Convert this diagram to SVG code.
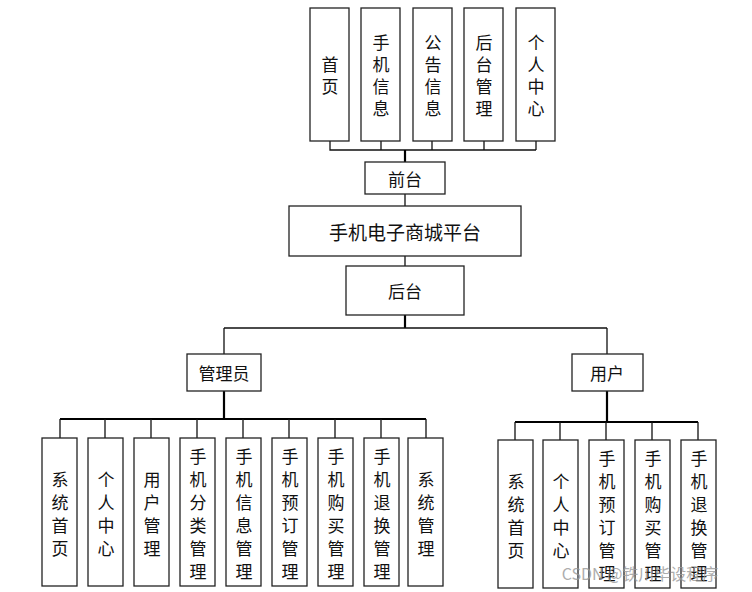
<svg xmlns="http://www.w3.org/2000/svg" width="752" height="592" viewBox="0 0 752 592">
<style>
rect{fill:#fff;stroke:#222;stroke-width:1.3}
text{font-family:"Noto Sans CJK SC","Liberation Serif",serif;font-size:17px;fill:#111;text-anchor:middle;dominant-baseline:central}
.c{fill:none;stroke:#111;stroke-width:1.3}
.b{fill:none;stroke:#000;stroke-width:2.2}
</style>
<rect x="0" y="0" width="752" height="592" style="fill:#fff;stroke:none"/>
<g id="connectors">
<path class="c" d="M330 141V150H536M381 141V150M432 141V150M484 141V150M536 141V150"/>
<path class="b" d="M405 150V162"/>
<path class="c" d="M405 194V206M405 256V266"/>
<path class="b" d="M405 315V328"/>
<path class="c" d="M224 328H607M224 328V354M607 328V354"/>
<path class="b" d="M224 391V419M60 419H426"/>
<path class="c" d="M60 419V438M105 419V438M151 419V438M197 419V438M243 419V438M289 419V438M335 419V438M381 419V438M426 419V438"/>
<path class="b" d="M607 391V422H515M607 422H698"/>
<path class="c" d="M515 422V440M560 422V440M606 422V440M652 422V440M698 422V440"/>
</g>
<g id="t1"><rect x="310" y="8" width="39" height="133"/><text x="330" y="63">首</text><text x="330" y="85">页</text></g>
<g id="t2"><rect x="361" y="8" width="39" height="133"/><text x="381" y="41">手</text><text x="381" y="63">机</text><text x="381" y="85">信</text><text x="381" y="107">息</text></g>
<g id="t3"><rect x="413" y="8" width="39" height="133"/><text x="433" y="41">公</text><text x="433" y="63">告</text><text x="433" y="85">信</text><text x="433" y="107">息</text></g>
<g id="t4"><rect x="464" y="8" width="39" height="133"/><text x="484" y="41">后</text><text x="484" y="63">台</text><text x="484" y="85">管</text><text x="484" y="107">理</text></g>
<g id="t5"><rect x="516" y="8" width="39" height="133"/><text x="536" y="41">个</text><text x="536" y="63">人</text><text x="536" y="85">中</text><text x="536" y="107">心</text></g>
<g id="qiantai"><rect x="365" y="162" width="80" height="32"/><text x="405" y="178">前台</text></g>
<g id="main"><rect x="289" y="206" width="232" height="50"/><text x="405" y="231" style="font-size:19px">手机电子商城平台</text></g>
<g id="houtai"><rect x="346" y="266" width="118" height="49"/><text x="405" y="290">后台</text></g>
<g id="admin"><rect x="187" y="354" width="74" height="37"/><text x="224" y="372">管理员</text></g>
<g id="user"><rect x="572" y="354" width="71" height="37"/><text x="607" y="372">用户</text></g>
<g id="a1"><rect x="42" y="438" width="35" height="148"/><text x="60" y="478">系</text><text x="60" y="501">统</text><text x="60" y="524">首</text><text x="60" y="547">页</text></g>
<g id="a2"><rect x="88" y="438" width="35" height="148"/><text x="106" y="478">个</text><text x="106" y="501">人</text><text x="106" y="524">中</text><text x="106" y="547">心</text></g>
<g id="a3"><rect x="134" y="438" width="35" height="148"/><text x="152" y="478">用</text><text x="152" y="501">户</text><text x="152" y="524">管</text><text x="152" y="547">理</text></g>
<g id="a4"><rect x="180" y="438" width="35" height="148"/><text x="198" y="455">手</text><text x="198" y="478">机</text><text x="198" y="501">分</text><text x="198" y="524">类</text><text x="198" y="547">管</text><text x="198" y="570">理</text></g>
<g id="a5"><rect x="226" y="438" width="35" height="148"/><text x="244" y="455">手</text><text x="244" y="478">机</text><text x="244" y="501">信</text><text x="244" y="524">息</text><text x="244" y="547">管</text><text x="244" y="570">理</text></g>
<g id="a6"><rect x="272" y="438" width="35" height="148"/><text x="290" y="455">手</text><text x="290" y="478">机</text><text x="290" y="501">预</text><text x="290" y="524">订</text><text x="290" y="547">管</text><text x="290" y="570">理</text></g>
<g id="a7"><rect x="318" y="438" width="35" height="148"/><text x="336" y="455">手</text><text x="336" y="478">机</text><text x="336" y="501">购</text><text x="336" y="524">买</text><text x="336" y="547">管</text><text x="336" y="570">理</text></g>
<g id="a8"><rect x="364" y="438" width="35" height="148"/><text x="382" y="455">手</text><text x="382" y="478">机</text><text x="382" y="501">退</text><text x="382" y="524">换</text><text x="382" y="547">管</text><text x="382" y="570">理</text></g>
<g id="a9"><rect x="408" y="438" width="35" height="148"/><text x="426" y="478">系</text><text x="426" y="501">统</text><text x="426" y="524">管</text><text x="426" y="547">理</text></g>
<g id="u1"><rect x="498" y="440" width="35" height="148"/><text x="516" y="480">系</text><text x="516" y="503">统</text><text x="516" y="526">首</text><text x="516" y="549">页</text></g>
<g id="u2"><rect x="543" y="440" width="35" height="148"/><text x="561" y="480">个</text><text x="561" y="503">人</text><text x="561" y="526">中</text><text x="561" y="549">心</text></g>
<g id="u3"><rect x="589" y="440" width="35" height="148"/><text x="607" y="457">手</text><text x="607" y="480">机</text><text x="607" y="503">预</text><text x="607" y="526">订</text><text x="607" y="549">管</text><text x="607" y="572">理</text></g>
<g id="u4"><rect x="635" y="440" width="35" height="148"/><text x="653" y="457">手</text><text x="653" y="480">机</text><text x="653" y="503">购</text><text x="653" y="526">买</text><text x="653" y="549">管</text><text x="653" y="572">理</text></g>
<g id="u5"><rect x="681" y="440" width="35" height="148"/><text x="699" y="457">手</text><text x="699" y="480">机</text><text x="699" y="503">退</text><text x="699" y="526">换</text><text x="699" y="549">管</text><text x="699" y="572">理</text></g>
<text x="640" y="573" style="font-size:16px;fill:#999;opacity:0.8">CSDN @铁川毕设程序</text>
</svg>
